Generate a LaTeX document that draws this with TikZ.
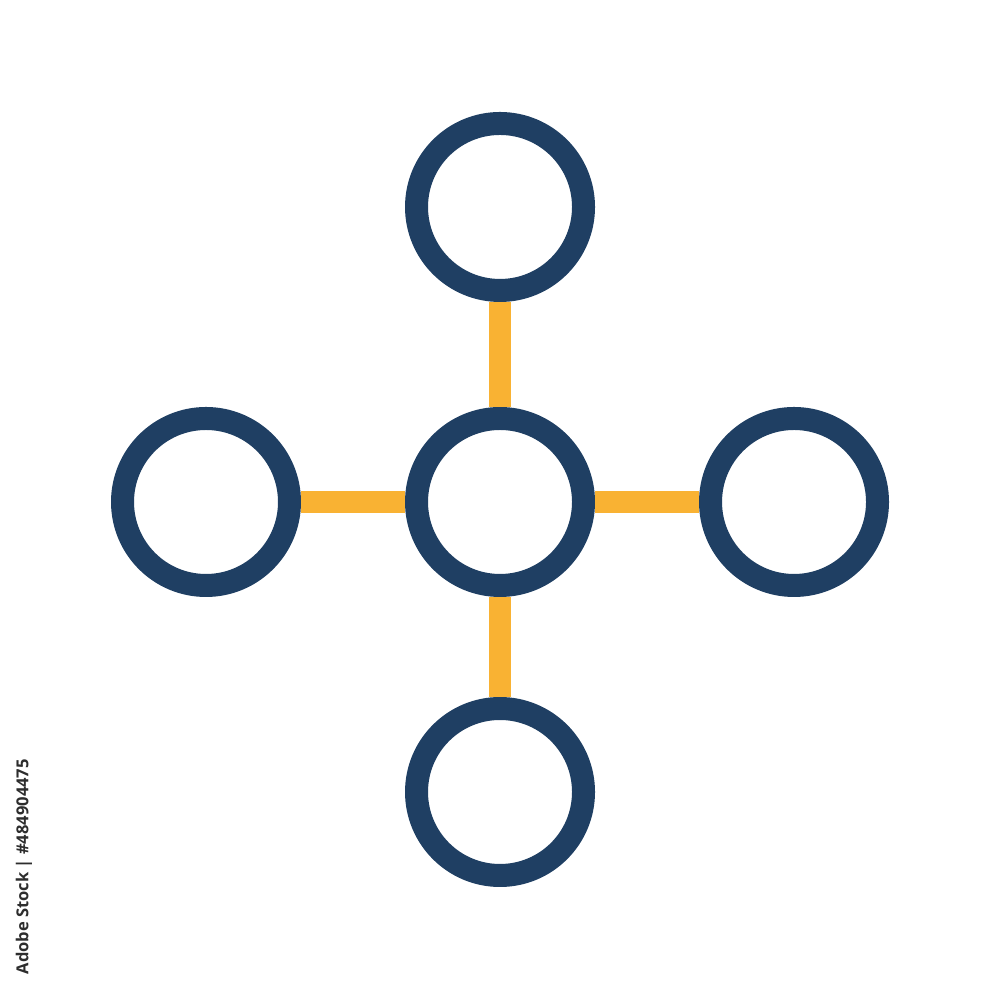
\documentclass[tikz,border=0pt]{standalone}
\usepackage{fontspec}
\newfontfamily\stockfont{Open Sans}
\definecolor{navy}{RGB}{31,63,99}
\definecolor{amber}{RGB}{249,178,51}
\definecolor{stockgray}{RGB}{45,45,45}
\tikzset{
	hub/.style={circle, draw=navy, line width=0.23cm, minimum size=1.67cm, inner sep=0pt, fill=white},
	link/.style={amber, line width=0.22cm}
}
\begin{document}
\begin{tikzpicture}[line join=round]
					\useasboundingbox (0,0) rectangle (10,10);
					%%%%%%%%%%%%%%%%%%%%%%%%%%%%%%%%%
					\coordinate (C) at (5.00,4.98);
					\coordinate (T) at (5.00,7.93);
					\coordinate (B) at (5.00,2.08);
					\coordinate (L) at (2.06,4.98);
					\coordinate (R) at (7.94,4.98);
					%%%%%%%%%%%%%%%%%%%%%%%%%%%%%%%%%
					\node[hub] (mid) at (C) {};
					\node[hub] (top) at (T) {};
					\node[hub] (bot) at (B) {};
					\node[hub] (lft) at (L) {};
					\node[hub] (rgt) at (R) {};
					\draw[link] (mid.north) -- (top.south);
					\draw[link] (mid.south) -- (bot.north);
					\draw[link] (mid.west) -- (lft.east);
					\draw[link] (mid.east) -- (rgt.west);
					%%%%%%%%%%%%%%%%%%%%%%%%%%%%%%%%%
					\node[rotate=90, anchor=west, inner sep=0pt, text=stockgray, font=\stockfont\bfseries\fontsize{4.7}{6}\selectfont] (stock) at (0.24,0.25) {Adobe Stock | \#484904475};
			\end{tikzpicture}
\end{document}
